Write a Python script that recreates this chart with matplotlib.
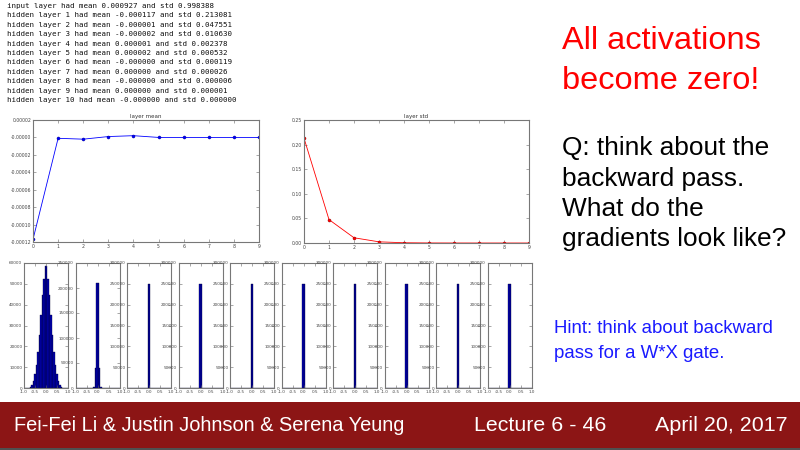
import matplotlib

matplotlib.use("agg")
from matplotlib import pyplot as plt
from matplotlib.patches import Rectangle
import numpy as np

# printed stats per layer
layer_names = ["input layer"] + ["hidden layer %d" % i for i in range(1, 11)]
layer_means = ["0.000927", "-0.000117", "-0.000001", "-0.000002", "0.000001", "0.000002",
               "-0.000000", "0.000000", "-0.000000", "0.000000", "-0.000000"]
layer_stds = ["0.998388", "0.213081", "0.047551", "0.010630", "0.002378", "0.000532",
              "0.000119", "0.000026", "0.000006", "0.000001", "0.000000"]

# plotted curves (hidden layers 1..10)
x_layers = np.arange(10)
mean_vals = [-0.000117, -0.000001, -0.000002, 0.000001, 0.000002,
             0.0, 0.0, 0.0, 0.0, 0.0]
std_vals = [0.213081, 0.047551, 0.010630, 0.002378, 0.000532,
            0.000119, 0.000026, 0.000006, 0.000001, 0.0]

# histograms: 30 bins over [-1, 1]
bin_edges = np.linspace(-1, 1, 31)
half1 = [58500, 52500, 44500, 35000, 25500, 17500, 11000, 6500, 3200, 1300, 450, 120, 30, 0, 0]
hist1 = half1[::-1] + half1
half2 = [210000, 40000, 1200] + [0] * 12
hist2 = half2[::-1] + half2
half_rest = [250000] + [0] * 14
hist_rest = half_rest[::-1] + half_rest
hist_counts = [hist1, hist2] + [hist_rest] * 8
hist_ylims = [60000, 250000] + [300000] * 8
hist_steps = [10000, 50000] + [50000] * 8

W, H = 800, 450
fig = plt.figure(figsize=(8, 4.5), dpi=100)
fig.patch.set_facecolor("white")


def px_axes(left, top, right, bottom):
    return fig.add_axes([left / W, 1 - bottom / H, (right - left) / W, (bottom - top) / H])


def style(ax, fs=3.3):
    ax.tick_params(direction="in", top=True, right=True, length=2, width=0.4,
                   labelsize=fs, labelcolor="#444444", pad=1.2, colors="#666666")
    for s in ax.spines.values():
        s.set_color("#777777")
        s.set_linewidth(0.8)


def fy(y):
    return 1 - y / H


# monospace printout
for i, (nm, m, s) in enumerate(zip(layer_names, layer_means, layer_stds)):
    fig.text(7 / W, fy(6 + 9.4 * i), "%s had mean %s and std %s" % (nm, m, s),
             family="DejaVu Sans Mono", size=5.4, va="center", ha="left", color="#111111")

# layer mean
ax = px_axes(33, 120, 259, 242)
ax.plot(x_layers, mean_vals, "o-", color="#0000ff", lw=0.6, ms=2.2, mew=0.3, mec="#000088")
ax.set_xlim(0, 9)
ax.set_ylim(-0.00012, 0.00002)
ax.set_yticks(np.arange(-0.00012, 0.000021, 0.00002))
ax.set_yticklabels(["%.5f" % v for v in np.arange(-0.00012, 0.000021, 0.00002)])
ax.set_xticks(x_layers)
ax.set_title("layer mean", fontsize=4, pad=1.5, color="#333333")
style(ax)

# layer std
ax = px_axes(304, 120, 529, 243)
ax.plot(x_layers, std_vals, "o-", color="#ff0000", lw=0.6, ms=2.2, mew=0.3, mec="#880000")
ax.set_xlim(0, 9)
ax.set_ylim(0, 0.25)
ax.set_yticks(np.arange(0, 0.26, 0.05))
ax.set_yticklabels(["%.2f" % v for v in np.arange(0, 0.26, 0.05)])
ax.set_xticks(x_layers)
ax.set_title("layer std", fontsize=4, pad=1.5, color="#333333")
style(ax)

# activation histograms
for i in range(10):
    left = 24 + 51.5 * i
    ax = px_axes(left, 263, left + 44, 388)
    ax.bar(bin_edges[:-1], hist_counts[i], width=np.diff(bin_edges), align="edge",
           color="#0000b0", edgecolor="#000033", linewidth=0.25)
    ax.set_xlim(-1, 1)
    ax.set_ylim(0, hist_ylims[i])
    ax.set_yticks(np.arange(0, hist_ylims[i] + 1, hist_steps[i]))
    ax.set_xticks([-1, -0.5, 0, 0.5, 1])
    ax.set_xticklabels(["-1.0", "-0.5", "0.0", "0.5", "1.0"])
    style(ax, fs=3.0)

# right-hand text
for y, t in zip([49, 89], ["All activations", "become zero!"]):
    fig.text(562 / W, fy(y), t, family="Liberation Sans", size=23.4, color="#ff0000", va="baseline")
for y, t in zip([155, 186, 216, 246], ["Q: think about the", "backward pass.",
                                        "What do the", "gradients look like?"]):
    fig.text(562 / W, fy(y), t, family="Liberation Sans", size=18.9, color="black", va="baseline")
for y, t in zip([333, 358], ["Hint: think about backward", "pass for a W*X gate."]):
    fig.text(554 / W, fy(y), t, family="Liberation Sans", size=13.4, color="#1a1aff", va="baseline")

# footer band
fig.patches.append(Rectangle((0, fy(448)), 1, (448 - 402) / H, transform=fig.transFigure,
                             facecolor="#8c1515", edgecolor="none", zorder=0))
fig.patches.append(Rectangle((0, 0), 1, 2 / H, transform=fig.transFigure,
                             facecolor="#505050", edgecolor="none", zorder=0))
for x, t, fs in zip([14, 474, 655], ["Fei-Fei Li & Justin Johnson & Serena Yeung",
                                     "Lecture 6 - 46", "April 20, 2017"], [14.4, 15.4, 15.4]):
    fig.text(x / W, fy(431), t, family="Liberation Sans", size=fs, color="white", va="baseline")

fig.savefig("out.png", dpi=100)
